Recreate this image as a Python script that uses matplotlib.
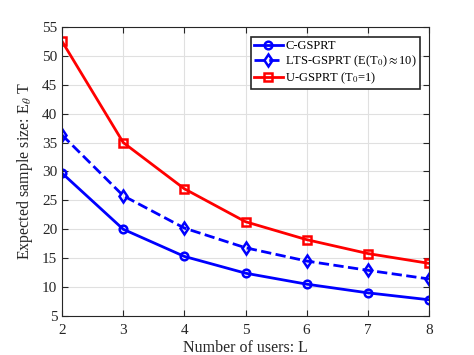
import matplotlib.pyplot as plt

plt.rcParams['font.family'] = ['Liberation Serif', 'DejaVu Serif']
plt.rcParams['mathtext.fontset'] = 'stix'

users = [2, 3, 4, 5, 6, 7, 8]
c_gsprt = [29.7, 20.0, 15.3, 12.4, 10.5, 9.0, 7.8]
lts_gsprt = [36.3, 25.8, 20.2, 16.8, 14.5, 12.9, 11.4]
u_gsprt = [52.5, 35.0, 27.0, 21.3, 18.2, 15.8, 14.1]

fig = plt.figure(figsize=(4.74, 3.55), dpi=100)
ax = fig.add_axes([0.131, 0.110, 0.774, 0.814])

ax.plot(users, c_gsprt, '-o', color='#0000ff', lw=2, ms=5.5, mfc='none', mew=1.8,
        label='C-GSPRT')
ax.plot(users, lts_gsprt, '--d', color='#0000ff', lw=2, ms=6, mfc='none', mew=1.8,
        label=r'LTS-GSPRT (E(T$_0$)$\approx$10)')
ax.plot(users, u_gsprt, '-s', color='#ff0000', lw=2, ms=5.5, mfc='none', mew=1.8,
        label=r'U-GSPRT (T$_0$=1)')

ax.set_xlim(2, 8)
ax.set_ylim(5, 55)
ax.set_xticks(users)
ax.set_yticks(range(5, 56, 5))
ax.grid(True, color='#e0e0e0', lw=0.8)
ax.tick_params(direction='in', top=True, right=True, labelsize=11, colors='#262626',
               length=4)
ax.tick_params(axis='x', pad=6)
for s in ax.spines.values():
    s.set_color('#262626')

ax.set_xlabel('Number of users: L', fontsize=11.5, color='#262626', labelpad=2)
ax.set_ylabel(r'Expected sample size: E$_\theta$ T', fontsize=11.5, color='#262626',
              labelpad=5)

leg = ax.legend(loc='upper right', fontsize=9, fancybox=False, framealpha=1,
                edgecolor='#262626', handlelength=2.3, borderpad=0.25,
                labelspacing=0.1, handletextpad=0.2, borderaxespad=0,
                bbox_to_anchor=(0.975, 0.965))
leg.get_frame().set_linewidth(1.2)

fig.savefig('out.png', dpi=100)
